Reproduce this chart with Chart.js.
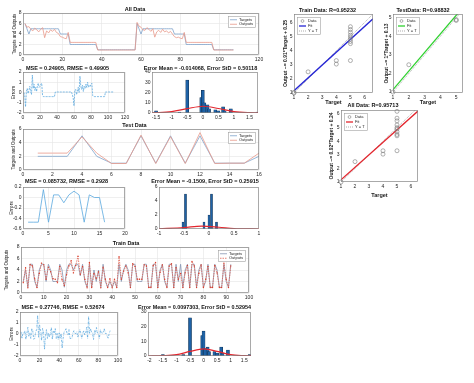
<!DOCTYPE html>
<html>
<head>
<meta charset="utf-8">
<script src="https://cdn.jsdelivr.net/npm/chart.js@4.4.1/dist/chart.umd.min.js"></script>
<style>
  html, body { margin: 0; padding: 0; background: #fff; }
  #fig { position: relative; width: 474px; height: 383px; overflow: hidden; background: #fff; }
  #fig canvas { position: absolute; }
</style>
</head>
<body>
<div id="fig"></div>
<script>
// ---- all data (targets / outputs / errors, sample index 1..107) ----
var allTargets = [6, 5, 4, 5, 5, 5, 5, 5, 5, 5, 5, 5, 5, 5, 5, 5, 5, 5,
  4, 4, 4, 4, 4,
  2, 2, 2, 2, 2, 2, 2, 2, 2, 2, 2, 2, 2, 2,
  1, 1, 1, 1, 1, 1, 1, 1, 1, 1, 1, 1, 1, 1, 1, 1, 1, 1, 1, 1,
  6, 5, 4, 5, 5, 5, 5, 5, 5, 5, 5, 5, 5, 5, 5, 5, 5, 5, 5,
  4, 4, 4, 4, 4, 4,
  2, 2, 2, 2, 2, 2, 2, 2, 2, 2, 2, 2, 2, 2,
  1, 1, 1, 1, 1, 1, 1, 1, 1, 1, 1];
var allOutputs = [6.0, 5.3, 5.4, 4.9, 4.6, 5.1, 4.8, 4.4, 4.9, 5.2, 3.3, 4.6, 4.2, 4.8, 4.5, 4.9, 4.3, 4.1,
  3.5, 3.4, 3.2, 3.1, 4.3,
  2.4, 2.4, 2.4, 2.4, 2.4, 2.4, 2.4, 2.4, 2.4, 2.4, 2.4, 2.4, 2.4, 2.4,
  0.95, 0.95, 0.95, 0.95, 0.95, 0.95, 0.95, 0.95, 0.95, 0.95, 0.95, 0.95, 0.95, 0.95, 0.95, 0.95, 0.95, 0.95, 0.95, 0.95,
  6.2, 5.5, 5.3, 4.8, 4.7, 5.2, 4.9, 4.5, 5.0, 3.4, 4.4, 4.7, 4.3, 4.9, 4.4, 4.6, 4.2, 4.5, 4.0,
  3.5, 3.3, 3.4, 3.2, 3.1, 4.3,
  2.4, 2.4, 2.4, 2.4, 2.4, 2.4, 2.4, 2.4, 2.4, 2.4, 2.4, 2.4, 2.4, 2.4,
  0.95, 0.95, 0.95, 0.95, 0.95, 0.95, 0.95, 0.95, 0.95, 0.95, 0.95];
var allErrors = [0, -0.3, -1.4, 0.1, 0.4, -0.1, 0.2, 0.6, 0.1, -0.2, 1.7, 0.4, 0.8, 0.2, 0.5, 0.1, 0.7, 0.9,
  0.5, 0.6, 0.8, 0.9, -0.3,
  -0.4, -0.4, -0.4, -0.4, -0.4, -0.4, -0.4, -0.4, -0.4, -0.4, -0.4, -0.4, -0.4, -0.4,
  0.05, 0.05, 0.05, 0.05, 0.05, 0.05, 0.05, 0.05, 0.05, 0.05, 0.05, 0.05, 0.05, 0.05, 0.05, 0.05, 0.05, 0.05, 0.05, 0.05,
  -0.2, -0.5, -1.3, 0.2, 0.3, -0.2, 0.1, 0.5, 0, 1.6, 0.6, 0.3, 0.7, 0.1, 0.6, 0.4, 0.8, 0.5, 1.0,
  0.5, 0.7, 0.6, 0.8, 0.9, -0.3,
  -0.4, -0.4, -0.4, -0.4, -0.4, -0.4, -0.4, -0.4, -0.4, -0.4, -0.4, -0.4, -0.4, -0.4,
  0.05, 0.05, 0.05, 0.05, 0.05, 0.05, 0.05, 0.05, 0.05, 0.05, 0.05];

// ---- test data (index 1..16) ----
var testTargets = [2, 2, 2, 5, 2, 1, 1, 5, 1, 5, 1, 5, 1, 1, 1, 2];
var testOutputs = [2.47, 2.47, 2.47, 4.85, 2.47, 0.95, 0.95, 5.1, 0.95, 4.88, 0.95, 5.47, 0.95, 1.0, 1.0, 2.47];
var testErrors = [-0.47, -0.47, -0.47, 0.15, -0.47, 0.05, 0.05, -0.1, 0.05, 0.12, 0.05, -0.47, 0.05, 0, 0, -0.47];

// ---- train data (index 1..92) ----
var trainTargets = [2, 4, 1, 5, 5, 2, 1, 4, 5, 5, 2, 5, 4, 2, 2, 2, 5, 4, 1, 4,
  5, 5, 4, 5, 5, 3, 5, 2, 1, 5, 1, 4, 2, 4, 1, 5, 2, 1, 2, 1,
  2, 1, 5, 2, 4, 5, 4, 1, 5, 5, 2, 2, 2, 5, 5, 1, 1, 5, 5, 1,
  4, 5, 2, 1, 5, 5, 1, 5, 2, 5, 1, 4, 5, 1, 5, 5, 1, 4, 5, 1,
  2, 5, 1, 1, 5, 4, 1, 1, 5, 2, 1, 5];
var trainOutputs = [1.8, 4.4, 0.9, 4.95, 4.7, 2.5, 0.95, 3.4, 5.2, 4.9, 2.4, 4.5, 3.7, 2.5, 2.4, 1.8, 4.6, 2.3, 1.3, 3.2,
  4.7, 5.6, 3.5, 4.8, 6.4, 3.2, 4.6, 2.4, 0.9, 5.3, 0.95, 3.4, 2.5, 3.7, 0.9, 4.5, 2.4, 0.95, 2.5, 0.9,
  2.4, 0.95, 6.3, 2.4, 3.8, 4.7, 3.5, 0.95, 5.1, 4.6, 2.4, 2.4, 2.4, 4.9, 4.7, 0.95, 0.95, 4.8, 5.3, 0.95,
  3.6, 4.9, 2.4, 0.95, 4.7, 5.1, 0.95, 4.4, 2.4, 3.4, 0.95, 3.5, 4.8, 0.95, 5.5, 4.7, 0.95, 3.4, 4.9, 0.95,
  2.4, 4.6, 0.95, 0.95, 4.8, 3.5, 0.95, 0.95, 5.2, 2.4, 0.95, 4.7];
var trainErrors = [0.2, -0.4, 0.1, 0.05, 0.3, -0.5, 0.05, 0.6, -0.2, 0.1, -0.4, 0.5, 0.3, -0.5, -0.4, 0.2, 0.4, 1.7, -0.3, 0.8,
  0.3, -0.6, 0.5, 0.2, -1.4, -0.2, 0.4, -0.4, 0.1, -0.3, 0.05, 0.6, -0.5, 0.3, 0.1, 0.5, -0.4, 0.05, -0.5, 0.1,
  -0.4, 0.05, -1.3, -0.4, 0.2, 0.3, 0.5, 0.05, -0.1, 0.4, -0.4, -0.4, -0.4, 0.1, 0.3, 0.05, 0.05, 0.2, -0.3, 0.05,
  0.4, 0.1, -0.4, 0.05, 0.3, -0.1, 0.05, 0.6, -0.4, 1.6, 0.05, 0.5, 0.2, 0.05, -0.5, 0.3, 0.05, 0.6, 0.1, 0.05,
  -0.4, 0.4, 0.05, 0.05, 0.2, 0.5, 0.05, 0.05, -0.2, -0.4, 0.05, 0.3];

// ---- error histograms (bin centre, count) and fitted normal curves ----
var hist1Bins = [-1.5, -0.75, -0.5, -0.05, 0, 0.05, 0.15, 0.2, 0.4, 0.5, 0.65, 0.7, 0.9, 1.75];
var hist1Counts = [2, 1, 32, 15, 22, 10, 8, 4, 3, 2, 6, 2, 4, 1];
var curve1X = [-1.63, -1.5, -1, -0.5, 0, 0.5, 1, 1.5, 1.77];
var curve1Y = [0.2, 0.3, 1.3, 4.2, 6.6, 4.4, 1.4, 0.3, 0.1];

var hist2Bins = [-0.52, -0.47, -0.1, 0, 0.05, 0.15];
var hist2Counts = [1, 5, 1, 2, 5, 1];
var curve2X = [-1, -0.5, -0.15, 0.2, 0.5, 1];
var curve2Y = [0.02, 0.2, 0.4, 0.25, 0.07, 0];

var hist3Bins = [-1.5, -0.75, -0.5, -0.05, 0, 0.05, 0.15, 0.2, 0.4, 0.5, 0.65, 0.7, 0.9, 1.7];
var hist3Counts = [1, 1, 26, 14, 17, 5, 6, 3, 3, 2, 6, 2, 4, 1];
var curve3X = [-2.05, -1.5, -1, -0.5, 0, 0.5, 1, 1.5, 1.75];
var curve3Y = [0, 0.2, 0.9, 3.1, 4.8, 3.2, 0.9, 0.2, 0.05];

// ---- regression plots ----
var regTrainX = [1, 1, 2, 4, 4, 5, 5, 5, 5, 5, 5, 5, 5, 5];
var regTrainY = [1, 1.05, 2.5, 3.3, 3.05, 3.3, 4.5, 4.65, 4.8, 4.95, 5.1, 5.3, 5.5, 5.7];
var fitTrainX = [1, 6.6];
var fitTrainY = [1.16, 6.26];

var regTestX = [1, 2, 5, 5, 5];
var regTestY = [1, 2.47, 5.47, 4.9, 4.85];
var fitTestX = [1, 5.43];
var fitTestY = [1.13, 5.56];

var regAllX = [1, 2, 4, 4, 5, 5, 5, 5, 5, 5, 5, 5, 5, 5];
var regAllY = [1, 2.5, 3.3, 3.05, 3.3, 4.4, 4.5, 4.7, 4.9, 5.0, 5.2, 5.5, 5.7, 6.2];
var fitAllX = [1, 6.5];
var fitAllY = [1.16, 6.22];

var FONT = '"Liberation Sans", Arial, sans-serif';
var C_TARGET = '#7fa3cc';
var C_OUTPUT = '#e8998a';
var C_ERR = '#5aa8de';
var C_BAR = '#1f62a6';
var C_EDGE = '#0e2b47';
var C_CURVE = '#e3262e';

Chart.defaults.font.family = FONT;
Chart.defaults.color = '#262626';
Chart.defaults.animation = false;
Chart.defaults.responsive = false;
Chart.defaults.events = [];
Chart.defaults.plugins.legend.display = false;
Chart.defaults.plugins.tooltip.enabled = false;

// box around each axes, like matlab "box on"
var frameBox = {
  id: 'frameBox',
  afterDatasetsDraw: function (chart) {
    var a = chart.chartArea, ctx = chart.ctx;
    ctx.save();
    ctx.strokeStyle = '#858585';
    ctx.lineWidth = 0.7;
    ctx.strokeRect(Math.round(a.left) + 0.5, Math.round(a.top) + 0.5,
      Math.round(a.right - a.left) - 1, Math.round(a.bottom - a.top) - 1);
    ctx.restore();
  }
};

// small boxed legend inside the axes
var legendBox = {
  id: 'legendBox',
  afterDatasetsDraw: function (chart, args, opts) {
    if (!opts.display) return;
    var ctx = chart.ctx, area = chart.chartArea;
    var items = chart.data.datasets.filter(function (d) { return d.label; });
    ctx.save();
    ctx.font = opts.fontSize + 'px ' + FONT;
    var tw = 0;
    items.forEach(function (d) { tw = Math.max(tw, ctx.measureText(d.label).width); });
    var w = Math.round(opts.sample + tw + 5);
    var h = Math.round(items.length * opts.rowHeight + 3);
    var x = opts.align === 'left' ? Math.round(area.left + opts.margin) : Math.round(area.right - opts.margin - w);
    var y = Math.round(area.top + opts.margin);
    ctx.fillStyle = '#fff';
    ctx.fillRect(x, y, w, h);
    ctx.strokeStyle = '#a0a0a0';
    ctx.lineWidth = 0.6;
    ctx.strokeRect(x + 0.5, y + 0.5, w - 1, h - 1);
    items.forEach(function (d, i) {
      var cy = y + 1.5 + opts.rowHeight * (i + 0.5);
      var sx = x + 2, ex = x + opts.sample;
      ctx.strokeStyle = d.borderColor;
      if (d.showLine === false) {
        ctx.lineWidth = 0.6;
        ctx.setLineDash([]);
        ctx.beginPath();
        ctx.arc((sx + ex) / 2, cy, 1.4, 0, Math.PI * 2);
        ctx.stroke();
      } else {
        ctx.lineWidth = d.borderWidth;
        ctx.setLineDash(d.borderDash || []);
        ctx.beginPath();
        ctx.moveTo(sx, cy);
        ctx.lineTo(ex, cy);
        ctx.stroke();
      }
      ctx.setLineDash([]);
      ctx.fillStyle = '#222';
      ctx.textBaseline = 'middle';
      ctx.fillText(d.label, x + opts.sample + 2, cy);
    });
    ctx.restore();
  }
};

Chart.register(frameBox, legendBox);

var fig = document.getElementById('fig');

function pts(xs, ys) {
  return xs.map(function (x, i) { return { x: x, y: ys[i] }; });
}

function series(ys) {
  return ys.map(function (y, i) { return { x: i + 1, y: y }; });
}

function scale(o) {
  return {
    type: 'linear',
    min: o.min,
    max: o.max,
    offset: false,
    grid: { display: !!o.grid, color: '#e4e4e4', lineWidth: 0.6, drawTicks: false, offset: false },
    border: { display: false },
    ticks: {
      autoSkip: false, maxRotation: 0, padding: 1.5,
      font: { size: 5 }, color: '#262626',
      callback: function (v) { return String(v); }
    },
    title: o.title ? {
      display: true, text: o.title, color: '#1a1a1a',
      font: { size: o.tsize || 5, weight: o.bold ? 'bold' : 'normal' },
      padding: { top: 1, bottom: 0 }
    } : { display: false },
    afterBuildTicks: function (s) {
      s.ticks = o.ticks.map(function (v) { return { value: v }; });
    },
    afterFit: function (s) {
      if (s.isHorizontal()) s.height = o.size; else s.width = o.size;
      s.paddingLeft = 0; s.paddingRight = 0; s.paddingTop = 0; s.paddingBottom = 0;
    }
  };
}

/**
 * Places one canvas so that its plot area lands on rect, then builds the chart.
 */
function panel(rect, m, title, gap, config) {
  var c = document.createElement('canvas');
  var w = rect.r - rect.l + m.l + m.r;
  var h = rect.b - rect.t + m.t + m.b;
  c.width = w;
  c.height = h;
  c.style.left = (rect.l - m.l) + 'px';
  c.style.top = (rect.t - m.t) + 'px';
  c.style.width = w + 'px';
  c.style.height = h + 'px';
  fig.appendChild(c);

  var fs = 5.5;
  config.options.layout = { padding: { left: 0, right: m.r, top: 0, bottom: 0 } };
  config.options.plugins = config.options.plugins || {};
  config.options.plugins.title = {
    display: true, text: title, color: '#111',
    font: { size: fs, weight: 'bold', lineHeight: 1 },
    padding: { top: m.t - gap - fs / 2, bottom: gap - fs / 2 }
  };
  config.options.scales.x = scale(config.options.scales.x);
  config.options.scales.y = scale(config.options.scales.y);
  return new Chart(c, config);
}

function timeSeries(rect, m, title, gap, xs, ys, targets, outputs, train) {
  return panel(rect, m, title, gap, {
    type: 'line',
    data: {
      datasets: [
        { label: 'Targets', data: series(targets), borderColor: train ? '#8696b3' : C_TARGET, borderWidth: 0.8, pointRadius: 0, order: 1 },
        { label: 'Outputs', data: series(outputs), borderColor: train ? '#e0604f' : C_OUTPUT, borderWidth: 0.8,
          borderDash: train ? [1.5, 1] : [], pointRadius: train ? 0.7 : 0, pointBorderWidth: 0,
          pointBackgroundColor: '#d8402f', order: 0 }
      ]
    },
    options: {
      scales: { x: xs, y: ys },
      plugins: { legendBox: { display: true, align: 'right', margin: 3, fontSize: 4, rowHeight: 4.5, sample: 9 } }
    }
  });
}

function errorPlot(rect, m, title, gap, xs, ys, errors, dash) {
  return panel(rect, m, title, gap, {
    type: 'line',
    data: {
      datasets: [
        { data: series(errors), borderColor: C_ERR, borderWidth: 0.8, borderDash: dash, pointRadius: 0 }
      ]
    },
    options: { scales: { x: xs, y: ys } }
  });
}

function histPlot(rect, m, title, gap, xs, ys, bins, counts, cx, cy, thick) {
  return panel(rect, m, title, gap, {
    type: 'bar',
    data: {
      datasets: [
        { type: 'line', data: pts(cx, cy), borderColor: C_CURVE, borderWidth: 1.2, pointRadius: 0,
          cubicInterpolationMode: 'monotone', order: 0 },
        { type: 'bar', data: pts(bins, counts), backgroundColor: C_BAR, borderColor: C_EDGE,
          borderWidth: 0.5, barThickness: thick, grouped: false, order: 1 }
      ]
    },
    options: { scales: { x: xs, y: ys } }
  });
}

function regPlot(rect, m, title, gap, xs, ys, rx, ry, fx, fy, idLine, fitColor) {
  return panel(rect, m, title, gap, {
    type: 'scatter',
    data: {
      datasets: [
        { label: 'Data', data: pts(rx, ry), showLine: false, borderColor: '#7b7b7b',
          backgroundColor: 'rgba(0,0,0,0)', pointRadius: 2, borderWidth: 0.6, clip: false },
        { label: 'Fit', data: pts(fx, fy), showLine: true, borderColor: fitColor, borderWidth: 1.3, pointRadius: 0 },
        { label: 'Y = T', data: pts(idLine, idLine), showLine: true, borderColor: '#8c8c8c', borderWidth: 0.7,
          borderDash: [1, 1], pointRadius: 0 }
      ]
    },
    options: {
      scales: { x: xs, y: ys },
      plugins: { legendBox: { display: true, align: 'left', margin: 3, fontSize: 4, rowHeight: 5, sample: 9 } }
    }
  });
}

// ---- left column ----
timeSeries({ l: 23, t: 13, r: 259, b: 55 }, { l: 12, t: 13, r: 8, b: 9 }, 'All Data', 4,
  { min: 0, max: 120, ticks: [0, 20, 40, 60, 80, 100, 120], grid: true, size: 9 },
  { min: 0, max: 8, ticks: [0, 2, 4, 6, 8], grid: true, size: 12, title: 'Targets and Outputs', tsize: 4.5 },
  allTargets, allOutputs, false);

errorPlot({ l: 23, t: 72, r: 125, b: 113 }, { l: 13, t: 12, r: 6, b: 9 }, 'MSE = 0.24905, RMSE = 0.49905', 4,
  { min: 0, max: 120, ticks: [0, 20, 40, 60, 80, 100, 120], grid: true, size: 9 },
  { min: -2, max: 2, ticks: [-2, -1, 0, 1, 2], grid: true, size: 13, title: 'Errors' },
  allErrors, [2, 1]);

histPlot({ l: 152, t: 72, r: 258, b: 113 }, { l: 9, t: 12, r: 8, b: 9 }, 'Error Mean = -0.014068, Error StD = 0.50118', 4,
  { min: -1.63, max: 1.77, ticks: [-1.5, -1, -0.5, 0, 0.5, 1, 1.5], size: 9 },
  { min: 0, max: 40, ticks: [0, 10, 20, 30, 40], size: 9 },
  hist1Bins, hist1Counts, curve1X, curve1Y, 3);

timeSeries({ l: 23, t: 129, r: 259, b: 170 }, { l: 13, t: 12, r: 8, b: 9 }, 'Test Data', 4,
  { min: 0, max: 16, ticks: [0, 2, 4, 6, 8, 10, 12, 14, 16], grid: true, size: 9 },
  { min: 0, max: 6, ticks: [0, 2, 4, 6], grid: true, size: 13, title: 'Targets and Outputs', tsize: 4.5 },
  testTargets, testOutputs, false);

errorPlot({ l: 23, t: 187, r: 125, b: 229 }, { l: 15, t: 14, r: 6, b: 9 }, 'MSE = 0.085732, RMSE = 0.2928', 6,
  { min: 0, max: 20, ticks: [0, 5, 10, 15, 20], grid: true, size: 9 },
  { min: -0.6, max: 0.2, ticks: [-0.6, -0.4, -0.2, 0, 0.2], grid: true, size: 15, title: 'Errors' },
  testErrors, []);

histPlot({ l: 159, t: 187, r: 259, b: 229 }, { l: 8, t: 14, r: 8, b: 9 }, 'Error Mean = -0.1509, Error StD = 0.25915', 6,
  { min: -1, max: 1, ticks: [-1, -0.5, 0, 0.5, 1], size: 9 },
  { min: 0, max: 6, ticks: [0, 2, 4, 6], size: 8 },
  hist2Bins, hist2Counts, curve2X, curve2Y, 2);

timeSeries({ l: 21, t: 247, r: 249, b: 293 }, { l: 18, t: 10, r: 8, b: 9 }, 'Train Data', 4,
  { min: 0, max: 100, ticks: [0, 10, 20, 30, 40, 50, 60, 70, 80, 90, 100], grid: true, size: 9 },
  { min: 0, max: 8, ticks: [0, 2, 4, 6, 8], grid: true, size: 18, title: 'Targets and Outputs', tsize: 4.5 },
  trainTargets, trainOutputs, true);

errorPlot({ l: 20, t: 312, r: 118, b: 356 }, { l: 12, t: 12, r: 6, b: 9 }, 'MSE = 0.27746, RMSE = 0.52674', 5,
  { min: 0, max: 100, ticks: [0, 20, 40, 60, 80, 100], grid: true, size: 9 },
  { min: -2, max: 2, ticks: [-2, -1, 0, 1, 2], grid: true, size: 12, title: 'Errors' },
  trainErrors, [2, 1, 0.5, 1]);

histPlot({ l: 148, t: 312, r: 251, b: 356 }, { l: 10, t: 12, r: 8, b: 9 }, 'Error Mean = 0.0097303, Error StD = 0.52954', 5,
  { min: -2.05, max: 1.75, ticks: [-2, -1.5, -1, -0.5, 0, 0.5, 1, 1.5], size: 9 },
  { min: 0, max: 30, ticks: [0, 10, 20, 30], size: 10 },
  hist3Bins, hist3Counts, curve3X, curve3Y, 3);

// ---- regression plots ----
regPlot({ l: 294, t: 14, r: 373, b: 93 }, { l: 12, t: 12, r: 6, b: 13 }, 'Train Data: R=0.95232', 4,
  { min: 1, max: 6.6, ticks: [1, 2, 3, 4, 5, 6], size: 13, title: 'Target', bold: true, tsize: 5.5 },
  { min: 1, max: 6.6, ticks: [1, 2, 3, 4, 5, 6], size: 12, title: 'Output ~= 0.91*Target + 0.25', bold: true },
  regTrainX, regTrainY, fitTrainX, fitTrainY, [1, 6.6], '#2626d4');

regPlot({ l: 393, t: 14, r: 463, b: 93 }, { l: 10, t: 12, r: 8, b: 13 }, 'TestData: R=0.98832', 4,
  { min: 1, max: 5.43, ticks: [1, 2, 3, 4, 5], size: 13, title: 'Target', bold: true, tsize: 5.5 },
  { min: 0.95, max: 5.2, ticks: [1, 2, 3, 4, 5], size: 10, title: 'Output ~= 1*Target + 0.13', bold: true },
  regTestX, regTestY, fitTestX, fitTestY, [1, 5.43], '#2fd12f');

regPlot({ l: 341, t: 110, r: 418, b: 182 }, { l: 13, t: 12, r: 6, b: 17 }, 'All Data: R=0.95713', 5,
  { min: 1, max: 6.5, ticks: [1, 2, 3, 4, 5, 6], size: 17, title: 'Target', bold: true, tsize: 5.5 },
  { min: 1, max: 6.3, ticks: [1, 2, 3, 4, 5, 6], size: 13, title: 'Output ~= 0.92*Target + 0.24', bold: true },
  regAllX, regAllY, fitAllX, fitAllY, [1, 6.5], '#e3262e');
</script>
</body>
</html>
